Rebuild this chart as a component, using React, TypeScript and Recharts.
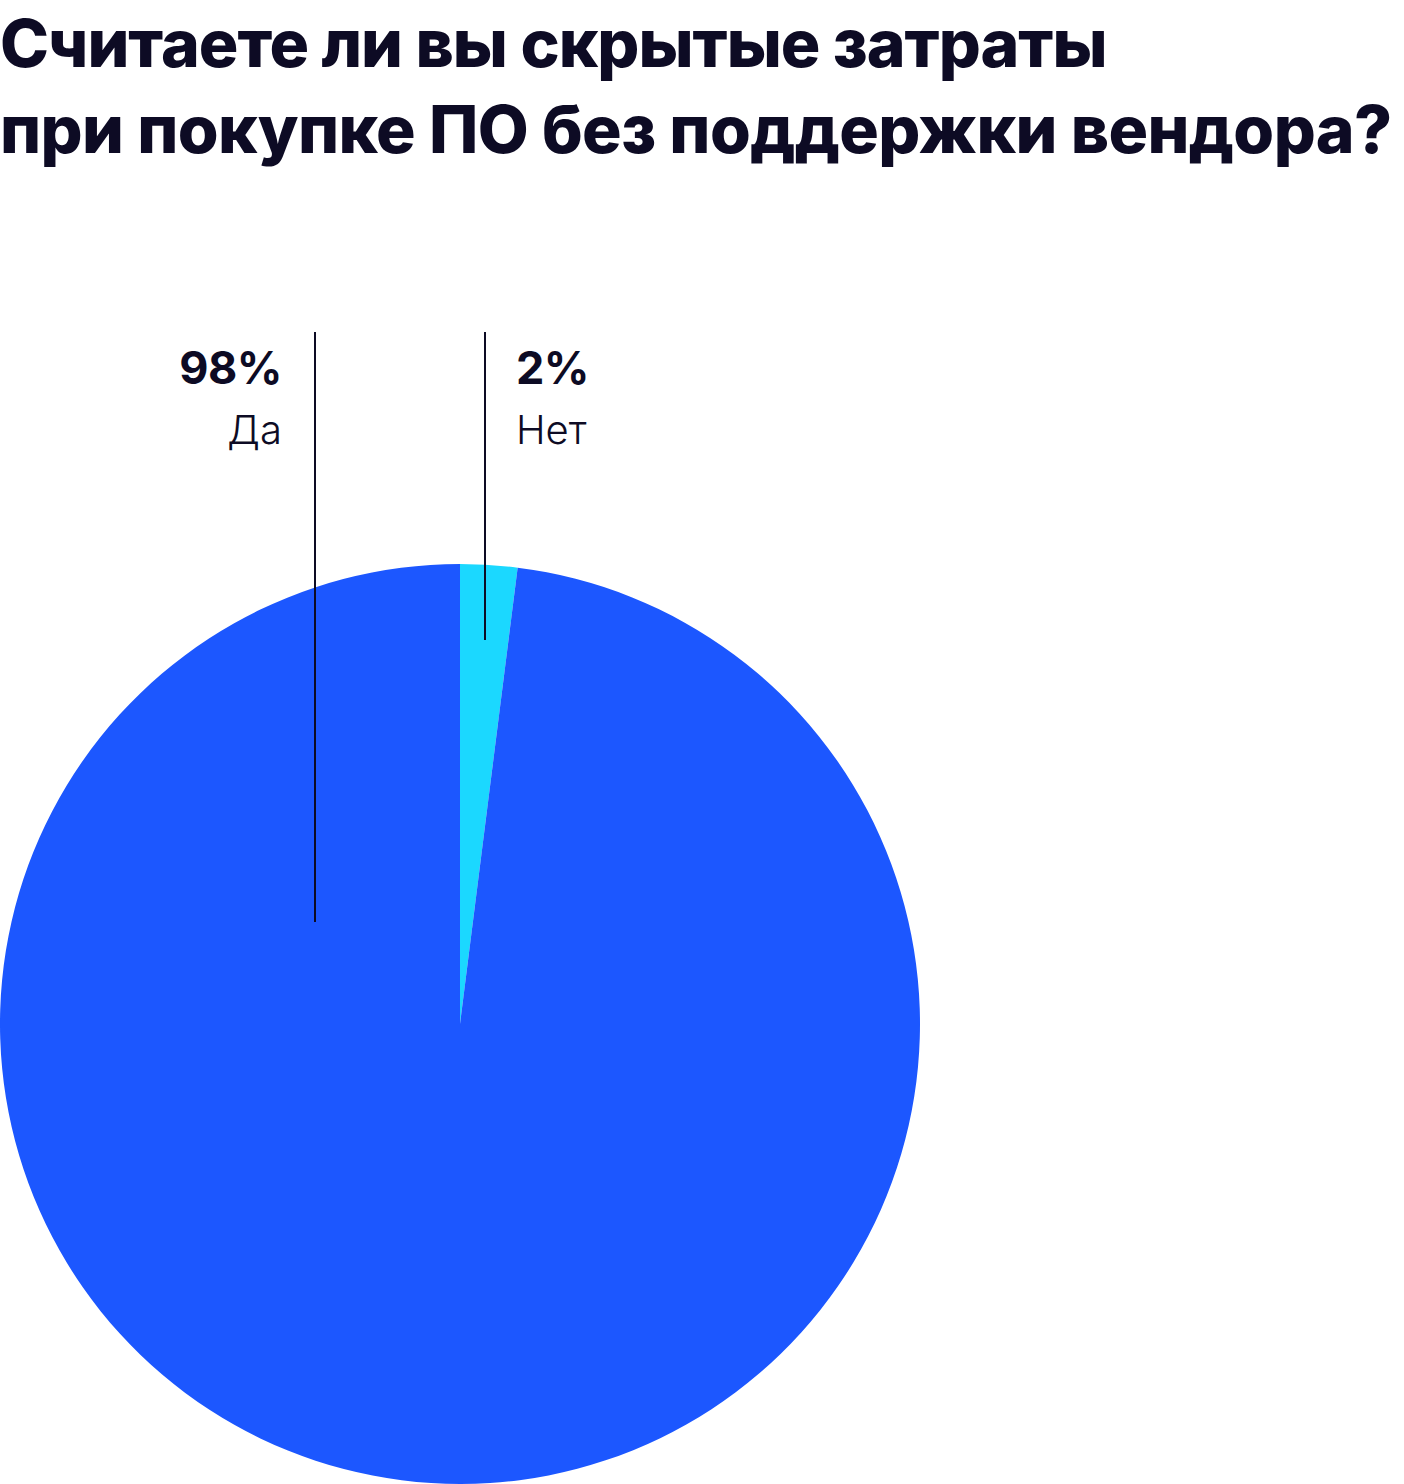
import { PieChart, Pie, Cell } from 'recharts';

const CATEGORIES = ['Нет', 'Да'];
const VALUES = [2, 98];
const COLORS = ['#1bd8ff', '#1c57ff'];

const TITLE_LINES = ['Считаете ли вы скрытые затраты', 'при покупке ПО без поддержки вендора?'];

const INK = '#0d0b24';
const FONT = 'Inter, "Noto Sans", sans-serif';

const data = CATEGORIES.map((name, i) => ({ name, value: VALUES[i] }));

// annotation layout per slice, relative to pie centre
const ANNOT = [
  { lineDx: 25, lineBottom: -384, textDx: 56, anchor: 'start' as const },
  { lineDx: -145, lineBottom: -102, textDx: -178, anchor: 'end' as const },
];

function renderLabel(props: any) {
  const { cx, cy, index, value, name } = props;
  const a = ANNOT[index];
  if (!a) return null;
  const top = cy - 692;
  return (
    <g key={`lbl-${index}`}>
      <line x1={cx + a.lineDx} x2={cx + a.lineDx} y1={top} y2={cy + a.lineBottom} stroke={INK} strokeWidth={2} />
      <text x={cx + a.textDx} y={top + 52} textAnchor={a.anchor} fill={INK} fontFamily={FONT} fontWeight={700} fontSize={45} letterSpacing={-0.5}>
        {`${value}%`}
      </text>
      <text x={cx + a.textDx} y={top + 112} textAnchor={a.anchor} fill={INK} fontFamily={FONT} fontWeight={300} fontSize={40}>
        {name}
      </text>
    </g>
  );
}

export default function App() {
  return (
    <div style={{ position: 'absolute', left: 0, top: 0, width: 1404, height: 1484, background: '#fff', overflow: 'hidden' }}>
      <div
        style={{
          position: 'absolute',
          left: 0,
          top: 0,
          fontFamily: FONT,
          fontWeight: 800,
          fontSize: 66,
          lineHeight: '86px',
          color: INK,
          whiteSpace: 'nowrap',
        }}
      >
        <div style={{ letterSpacing: -1 }}>{TITLE_LINES[0]}</div>
        <div style={{ letterSpacing: -0.6 }}>{TITLE_LINES[1]}</div>
      </div>
      <PieChart
        width={1404}
        height={1484}
        margin={{ top: 0, right: 0, bottom: 0, left: 0 }}
        style={{ position: 'absolute', left: 0, top: 0 }}
      >
        <Pie
          data={data}
          dataKey="value"
          nameKey="name"
          cx={460}
          cy={1024}
          outerRadius={460}
          startAngle={90}
          endAngle={-270}
          stroke="none"
          label={renderLabel}
          labelLine={false}
          isAnimationActive={false}
        >
          {data.map((_, i) => (
            <Cell key={i} fill={COLORS[i]} />
          ))}
        </Pie>
      </PieChart>
    </div>
  );
}
